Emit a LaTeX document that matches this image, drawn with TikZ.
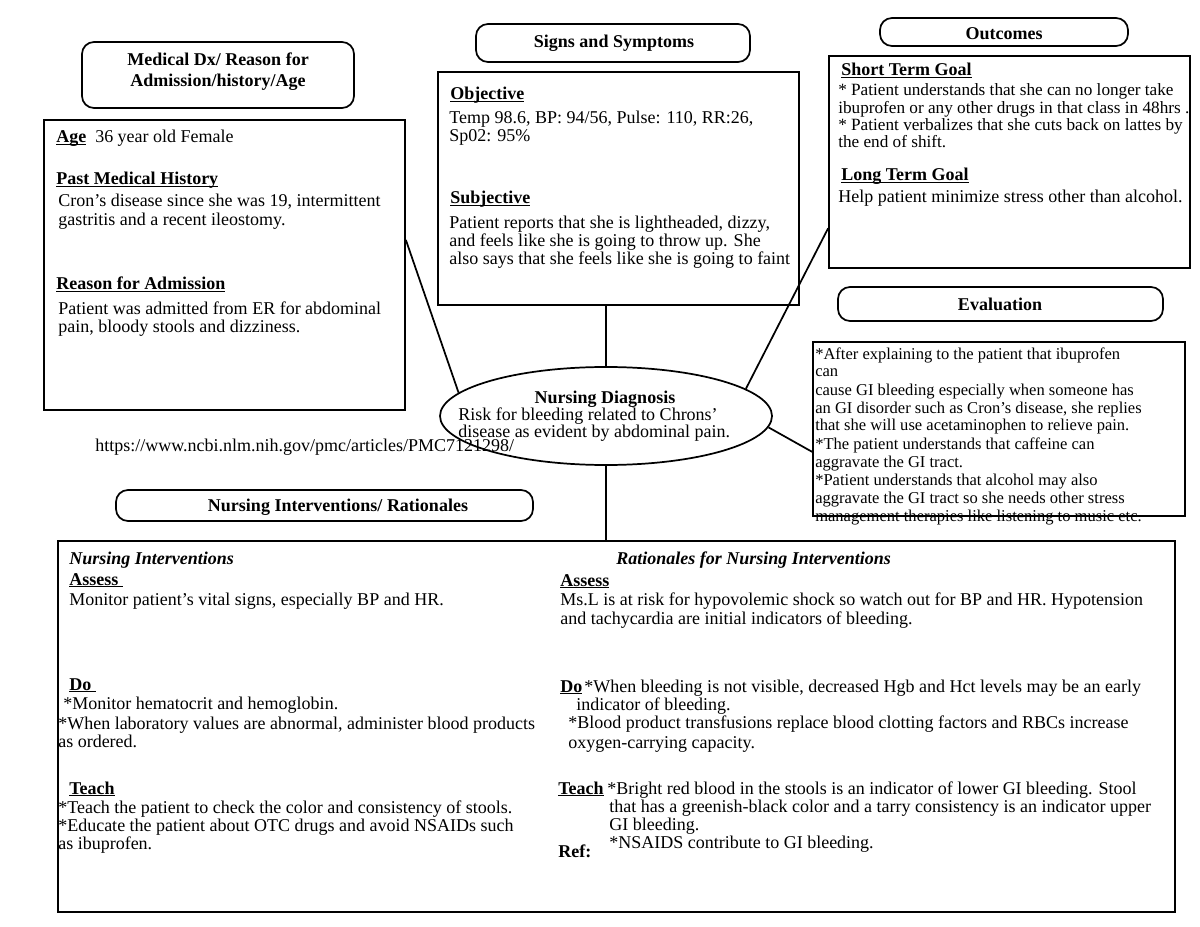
\documentclass[tikz,border=0pt]{standalone}
\usepackage{fontspec}
\setmainfont{Liberation Serif}
\usetikzlibrary{shapes.geometric,fit,calc}
\newcommand\fA{\fontsize{13.5}{16}\selectfont}
\newcommand\fB{\fontsize{12.9}{15}\selectfont}
\newcommand\fC{\fontsize{12.4}{15}\selectfont}
\newcommand\myul[1]{\setbox0\hbox{#1}\rlap{\rule[-1.6pt]{\wd0}{0.75pt}}\box0}
\begin{document}
\begin{tikzpicture}[x=0.75pt,y=-0.75pt]
\tikzset{
 hdr/.style={draw, line width=1.3pt, rounded corners=9pt, inner sep=0pt},
 hdrt/.style={inner sep=0pt, font=\fA\bfseries, align=center},
 bx/.style={draw, line width=1.3pt, inner sep=0pt},
 tx/.style={anchor=base west, inner sep=0pt, font=\fA},
 tb/.style={tx, font=\fA\bfseries},
 tbi/.style={tx, font=\fA\bfseries\itshape},
 ts/.style={tx, font=\fB},
 te/.style={tx, font=\fC},
 conn/.style={line width=1.3pt},
}
\useasboundingbox[fill=white] (0,0) rectangle (1200,927);

% ---------- header boxes ----------
\node[hdr, fit={(82,42)(354,108)}] (hmed) {};
\node[hdrt, font=\fontsize{13.5}{15.75}\selectfont\bfseries] (hmedt) at (218,72) {Medical Dx/ Reason for\\Admission/history/Age};
\node[hdr, fit={(476,24)(750,62)}] (hsig) {};
\node[hdrt] (hsigt) at (614,43) {Signs and Symptoms};
\node[hdr, fit={(880,18)(1128,46)}] (hout) {};
\node[hdrt] (houtt) at (1004,34) {Outcomes};
\node[hdr, fit={(838,287)(1163,321)}] (heva) {};
\node[hdrt] (hevat) at (1000,304) {Evaluation};
\node[hdr, fit={(116,490)(533,521)}] (hint) {};
\node[hdrt] (hintt) at (338,507) {Nursing Interventions/ Rationales};

% ---------- content boxes ----------
\node[bx, fit={(44,120)(405,410)}] (lb) {};
\node[bx, fit={(438,72)(799,305)}] (ss) {};
\node[bx, fit={(829,56)(1190,268)}] (oc) {};
\node[bx, fit={(813,342)(1185,516)}] (ev) {};
\node[bx, fit={(58,541)(1175,912)}] (bb) {};

% ---------- diagnosis ellipse ----------
\node[draw, ellipse, line width=1.3pt, inner sep=0pt, minimum width=249pt, minimum height=73.5pt] (dx) at (606,416) {};
\node[tb, anchor=base] (dxt) at (605,403) {Nursing Diagnosis};
\node[tx] (dx1) at (458,420) {Risk for bleeding related to Chrons'};
\node[tx] (dx2) at (458,437) {disease as evident by abdominal pain.};
\node[tx] (url) at (95,451) {https://www.ncbi.nlm.nih.gov/pmc/articles/PMC7121298/};

% ---------- left box text ----------
\node[tx] (age) at (56,143) {\textbf{\myul{Age}}\ \ 36 year old Female};
\node[tb] (pmh) at (56,185) {\myul{Past Medical History}};
\node[tx] (pmh1) at (58,207) {Cron's disease since she was 19, intermittent};
\node[tx] (pmh2) at (58,226) {gastritis and a recent ileostomy.};
\node[tb] (rfa) at (56,290) {\myul{Reason for Admission}};
\node[tx] (rfa1) at (58,315) {Patient was admitted from ER for abdominal};
\node[tx] (rfa2) at (58,333) {pain, bloody stools and dizziness.};

% ---------- signs box text ----------
\node[tb] (obj) at (450,100) {\myul{Objective}};
\node[tx] (obj1) at (449,124) {Temp 98.6, BP: 94/56, Pulse: 110, RR:26,};
\node[tx] (obj2) at (449,142) {Sp02: 95\%};
\node[tb] (sub) at (450,204) {\myul{Subjective}};
\node[tx] (sub1) at (449,229) {Patient reports that she is lightheaded, dizzy,};
\node[tx] (sub2) at (449,247) {and feels like she is going to throw up. She};
\node[tx] (sub3) at (449,265) {also says that she feels like she is going to faint};

% ---------- outcomes text ----------
\node[tb] (stg) at (841,76) {\myul{Short Term Goal}};
\node[ts] (stg1) at (838,96) {* Patient understands that she can no longer take};
\node[ts] (stg2) at (838,114) {ibuprofen or any other drugs in that class in 48hrs .};
\node[ts] (stg3) at (838,131) {* Patient verbalizes that she cuts back on lattes by};
\node[ts] (stg4) at (838,148) {the end of shift.};
\node[tb] (ltg) at (841,181) {\myul{Long Term Goal}};
\node[tx] (ltg1) at (838,203) {Help patient minimize stress other than alcohol.};

% ---------- evaluation text ----------
\node[te] (ev1) at (815,359) {*After explaining to the patient that ibuprofen};
\node[te] (ev2) at (815,377) {can};
\node[te] (ev3) at (815,395) {cause GI bleeding especially when someone has};
\node[te] (ev4) at (815,413) {an GI disorder such as Cron's disease, she replies};
\node[te] (ev5) at (815,431) {that she will use acetaminophen to relieve pain.};
\node[te] (ev6) at (815,449) {*The patient understands that caffeine can};
\node[te] (ev7) at (815,467) {aggravate the GI tract.};
\node[te] (ev8) at (815,485) {*Patient understands that alcohol may also};
\node[te] (ev9) at (815,503) {aggravate the GI tract so she needs other stress};
\node[te] (ev10) at (815,521) {management therapies like listening to music etc.};

% ---------- bottom box, left column ----------
\node[tbi] (ni) at (69,564) {Nursing Interventions};
\node[tb] (nia) at (69,585) {\myul{Assess\ }};
\node[tx] (nia1) at (69,605) {Monitor patient’s vital signs, especially BP and HR.};
\node[tb] (nid) at (69,690) {\myul{Do\ }};
\node[tx] (nid1) at (63,709) {*Monitor hematocrit and hemoglobin.};
\node[tx] (nid2) at (58,729) {*When laboratory values are abnormal, administer blood products};
\node[tx] (nid3) at (58,747) {as ordered.};
\node[tb] (nit) at (69,794) {\myul{Teach}};
\node[tx] (nit1) at (58,813) {*Teach the patient to check the color and consistency of stools.};
\node[tx] (nit2) at (58,831) {*Educate the patient about OTC drugs and avoid NSAIDs such};
\node[tx] (nit3) at (58,849) {as ibuprofen.};

% ---------- bottom box, right column ----------
\node[tbi] (ra) at (616,564) {Rationales for Nursing Interventions};
\node[tb] (raa) at (560,586) {\myul{Assess}};
\node[tx] (raa1) at (560,605) {Ms.L is at risk for hypovolemic shock so watch out for BP and HR. Hypotension};
\node[tx] (raa2) at (560,624) {and tachycardia are initial indicators of bleeding.};
\node[tb] (rad) at (560,692) {\myul{Do}};
\node[tx] (rad1) at (584,692) {*When bleeding is not visible, decreased Hgb and Hct levels may be an early};
\node[tx] (rad2) at (576,710) {indicator of bleeding.};
\node[tx] (rad3) at (568,728) {*Blood product transfusions replace blood clotting factors and RBCs increase};
\node[tx] (rad4) at (568,748) {oxygen-carrying capacity.};
\node[tb] (rat) at (558,794) {\myul{Teach}};
\node[tx] (rat1) at (607,794) {*Bright red blood in the stools is an indicator of lower GI bleeding. Stool};
\node[tx] (rat2) at (609,812) {that has a greenish-black color and a tarry consistency is an indicator upper};
\node[tx] (rat3) at (609,830) {GI bleeding.};
\node[tx] (rat4) at (609,848) {*NSAIDS contribute to GI bleeding.};
\node[tb] (ref) at (558,857) {Ref:};

% ---------- connectors ----------
\draw[conn] ($(lb.north east)!0.414!(lb.south east)$) -- (dx.171);
\draw[conn] (dx.north) -- (dx.north |- ss.south);
\draw[conn] (dx.11) -- ($(oc.north west)!0.81!(oc.south west)$);
\draw[conn] (dx.-4) -- ($(ev.north west)!0.63!(ev.south west)$);
\draw[conn] (dx.south) -- (dx.south |- bb.north);
\end{tikzpicture}
\end{document}
